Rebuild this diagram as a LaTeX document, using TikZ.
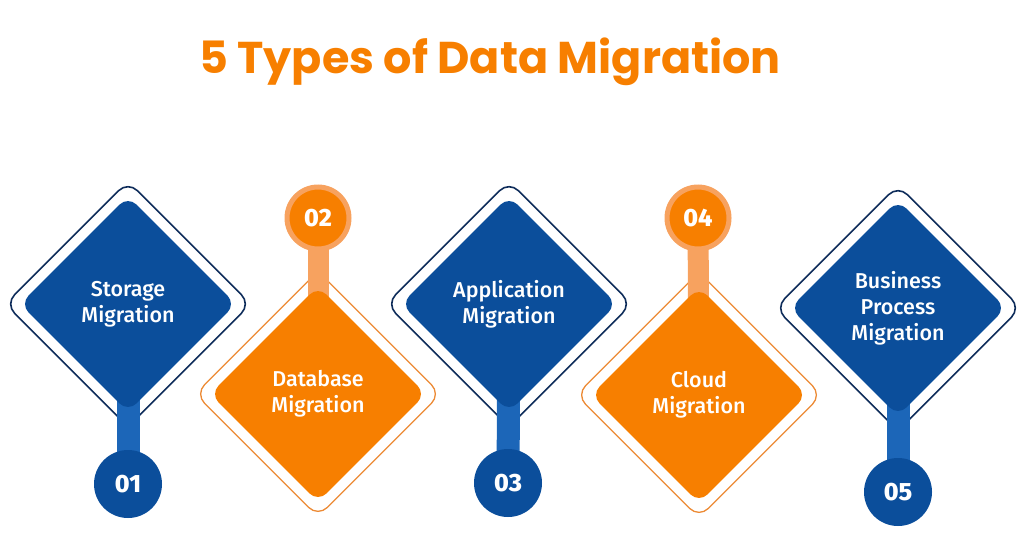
\documentclass[tikz,border=0pt]{standalone}
\usepackage{fontspec}
\usepackage{tikz}
\usetikzlibrary{shapes.geometric}
\newfontfamily\titlefont{Poppins}
\newfontfamily\labelfont{Fira Sans}[UprightFont={* Medium}]
\definecolor{migblue}{RGB}{11,78,155}
\definecolor{stemblue}{RGB}{28,102,184}
\definecolor{navyline}{RGB}{14,44,90}
\definecolor{migorange}{RGB}{247,127,0}
\definecolor{stemorange}{RGB}{247,162,95}
\definecolor{orangeline}{RGB}{236,138,52}
\pgfdeclarelayer{bg}
\pgfdeclarelayer{mid}
\pgfsetlayers{bg,mid,main}

\begin{document}
\begin{tikzpicture}[
		x=1pt,y=-1pt,
		typebox/.style={diamond, aspect=1, inner sep=0pt, minimum size=216pt,
			rounded corners=12pt, text=white, align=center,
			font=\labelfont\fontsize{21.5}{26}\selectfont},
		frame/.style={diamond, aspect=1, inner sep=0pt, minimum size=246pt,
			rounded corners=13pt, line width=1.6pt},
		numdot/.style={circle, inner sep=0pt, minimum size=68pt, text=white,
			font=\labelfont\bfseries\fontsize{25}{25}\selectfont}
		]
		\useasboundingbox (0,0) rectangle (1024,546);
		
		% ====== TIÊU ĐỀ ======
		\node[text=migorange, font=\titlefont\bfseries\fontsize{44.5}{50}\selectfont] (title) at (490,62)
		{5 Types of Data Migration};
		
		% ====== KHUNG NGOÀI ======
		\begin{pgfonlayer}{bg}
			\node[frame, draw=navyline] (o1) at (128,304) {};
			\node[frame, draw=orangeline, line width=1.3pt] (o2) at (318,394) {};
			\node[frame, draw=navyline] (o3) at (509,304) {};
			\node[frame, draw=orangeline, line width=1.3pt] (o4) at (699,395) {};
			\node[frame, draw=navyline] (o5) at (898,308) {};
		\end{pgfonlayer}
		
		% ====== HÌNH THOI ======
		\node[typebox, fill=migblue] (d1) at (128,304) {Storage\\Migration};
		\node[typebox, fill=migorange] (d2) at (318,394) {Database\\Migration};
		\node[typebox, fill=migblue] (d3) at (509,304) {Application\\Migration};
		\node[typebox, fill=migorange] (d4) at (699,395) {Cloud\\Migration};
		\node[typebox, fill=migblue] (d5) at (898,308) {Business\\Process\\Migration};
		
		% ====== SỐ THỨ TỰ ======
		\node[numdot, fill=migblue] (n1) at (128,484) {01};
		\node[numdot, fill=migorange, draw=stemorange, line width=5pt, minimum size=62pt] (n2) at (318,218) {02};
		\node[numdot, fill=migblue] (n3) at (508,483) {03};
		\node[numdot, fill=migorange, draw=stemorange, line width=5pt, minimum size=62pt] (n4) at (698,218) {04};
		\node[numdot, fill=migblue] (n5) at (898,492) {05};
		
		% ====== THÂN NỐI ======
		\begin{pgfonlayer}{mid}
			\draw[stemblue, line width=23pt] (d1.center) -- (n1.center);
			\draw[stemorange, line width=21pt] (d2.center) -- (n2.center);
			\draw[stemblue, line width=23pt] (d3.center) -- (n3.center);
			\draw[stemorange, line width=21pt] (d4.center) -- (n4.center);
			\draw[stemblue, line width=23pt] (d5.center) -- (n5.center);
		\end{pgfonlayer}
		
\end{tikzpicture}
\end{document}
